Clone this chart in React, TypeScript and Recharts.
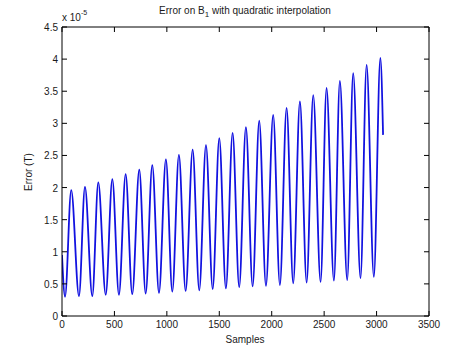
import { LineChart, Line, XAxis, YAxis } from "recharts";

// values are in units of 1e-5 T (the axis carries the "x 10^-5" factor)
const startPoint = { sample: 0, error: 0.95 };
const troughSamples = [29, 162, 289, 417, 543, 670, 798, 925, 1052, 1179, 1309, 1437, 1563, 1690, 1818, 1945, 2078, 2205, 2333, 2466, 2593, 2720, 2847, 2974];
const troughValues = [0.3, 0.31, 0.31, 0.33, 0.33, 0.34, 0.35, 0.36, 0.38, 0.39, 0.4, 0.42, 0.43, 0.45, 0.46, 0.47, 0.48, 0.51, 0.52, 0.53, 0.55, 0.56, 0.59, 0.61];
const peakSamples = [88, 219, 346, 480, 607, 737, 861, 991, 1115, 1246, 1373, 1500, 1627, 1754, 1881, 2014, 2142, 2269, 2396, 2523, 2650, 2777, 2905, 3036];
const peakValues = [1.96, 2.01, 2.08, 2.13, 2.21, 2.28, 2.35, 2.44, 2.51, 2.59, 2.66, 2.77, 2.85, 2.94, 3.04, 3.13, 3.24, 3.34, 3.44, 3.55, 3.66, 3.78, 3.91, 4.02];
const endPoint = { sample: 3062, error: 2.82 };

const xTicks = [0, 500, 1000, 1500, 2000, 2500, 3000, 3500];
const yTicks = [0, 0.5, 1, 1.5, 2, 2.5, 3, 3.5, 4, 4.5];

const data = [startPoint];
troughSamples.forEach((s, i) => {
  data.push({ sample: s, error: troughValues[i] });
  data.push({ sample: peakSamples[i], error: peakValues[i] });
});
data.push(endPoint);

const W = 474;
const H = 355;
// each axis takes 1px, so the plot box ends up at x 62..429, y 27..316
const margin = { top: 26, right: 44, bottom: 38, left: 61 };
const FONT = "'Liberation Sans', Arial, sans-serif";
const TXT = "#1a1a1a";

const BottomTick = (props: any) => {
  const { x, y, payload } = props;
  return (
    <g>
      <line x1={x} y1={y} x2={x} y2={y - 5} stroke="#000" />
      <text x={x} y={y + 12} textAnchor="middle" fontSize={10} fontFamily={FONT} fill={TXT}>
        {payload.value}
      </text>
    </g>
  );
};

const TopTick = (props: any) => {
  const { x, y } = props;
  return <line x1={x} y1={y} x2={x} y2={y + 5} stroke="#000" />;
};

const LeftTick = (props: any) => {
  const { x, y, payload } = props;
  return (
    <g>
      <line x1={x} y1={y} x2={x + 5} y2={y} stroke="#000" />
      <text x={x - 4} y={y + 4} textAnchor="end" fontSize={10} fontFamily={FONT} fill={TXT}>
        {payload.value}
      </text>
    </g>
  );
};

const RightTick = (props: any) => {
  const { x, y } = props;
  return <line x1={x} y1={y} x2={x - 5} y2={y} stroke="#000" />;
};

export default function App() {
  return (
    <div style={{ position: "absolute", left: 0, top: 0, width: W, height: H, background: "#fff" }}>
      <LineChart width={W} height={H} data={data} margin={margin}>
        <XAxis
          dataKey="sample"
          type="number"
          domain={[0, 3500]}
          ticks={xTicks}
          allowDataOverflow
          height={1}
          tickSize={0}
          tickMargin={0}
          tickLine={false}
          axisLine={{ stroke: "#000" }}
          tick={<BottomTick />}
        />
        <XAxis
          xAxisId="top"
          orientation="top"
          dataKey="sample"
          type="number"
          domain={[0, 3500]}
          ticks={xTicks}
          allowDataOverflow
          height={1}
          tickSize={0}
          tickMargin={0}
          tickLine={false}
          axisLine={{ stroke: "#000" }}
          tick={<TopTick />}
        />
        <YAxis
          type="number"
          domain={[0, 4.5]}
          ticks={yTicks}
          allowDataOverflow
          width={1}
          tickSize={0}
          tickMargin={0}
          tickLine={false}
          axisLine={{ stroke: "#000" }}
          tick={<LeftTick />}
        />
        <YAxis
          yAxisId="right"
          orientation="right"
          type="number"
          domain={[0, 4.5]}
          ticks={yTicks}
          allowDataOverflow
          width={1}
          tickSize={0}
          tickMargin={0}
          tickLine={false}
          axisLine={{ stroke: "#000" }}
          tick={<RightTick />}
        />
        <Line
          type="monotone"
          dataKey="error"
          stroke="#1212e0"
          strokeWidth={1.8}
          dot={false}
          isAnimationActive={false}
        />
      </LineChart>
      <svg
        width={W}
        height={H}
        style={{ position: "absolute", left: 0, top: 0, pointerEvents: "none" }}
        fontFamily={FONT}
        fill={TXT}
      >
        <text x={245} y={14} textAnchor="middle" fontSize={10}>
          Error on B
          <tspan fontSize={8} dy={3}>1</tspan>
          <tspan dy={-3}> with quadratic interpolation</tspan>
        </text>
        <text x={62} y={21} fontSize={10}>
          x 10
          <tspan fontSize={7} dy={-6}>-5</tspan>
        </text>
        <text x={245} y={343} textAnchor="middle" fontSize={10}>
          Samples
        </text>
        <text transform="translate(32,172) rotate(-90)" textAnchor="middle" fontSize={10}>
          Error (T)
        </text>
      </svg>
    </div>
  );
}
